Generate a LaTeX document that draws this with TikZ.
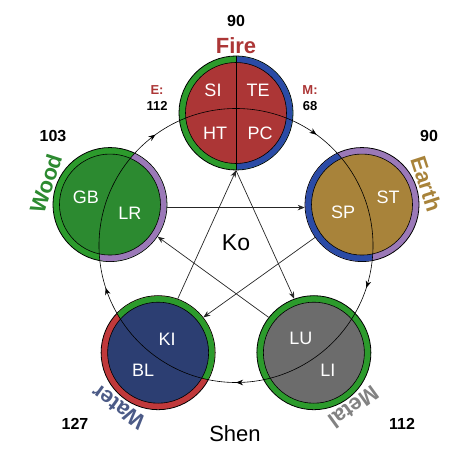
\documentclass[tikz,border=0pt]{standalone}
\usepackage{fontspec}
\setmainfont{Liberation Sans}
\usetikzlibrary{arrows.meta,calc,decorations.markings}
\definecolor{firered}{RGB}{172,54,54}
\definecolor{woodgreen}{RGB}{44,138,48}
\definecolor{earthgold}{RGB}{168,131,58}
\definecolor{waterblue}{RGB}{44,62,114}
\definecolor{metalgray}{RGB}{108,108,108}
\definecolor{ringgreen}{RGB}{44,155,44}
\definecolor{ringblue}{RGB}{43,75,166}
\definecolor{ringpurple}{RGB}{155,121,184}
\definecolor{ringred}{RGB}{192,57,59}
\begin{document}
\begin{tikzpicture}[x=1pt,y=1pt,>={Stealth[length=7pt,width=5.5pt]},
                elem node/.style={circle,draw,line width=0.8pt,minimum size=114pt,inner sep=0pt},
                organ/.style={text=white,font=\fontsize{18}{18}\selectfont},
                tag/.style={font=\bfseries\fontsize{22}{22}\selectfont},
                score/.style={font=\bfseries\fontsize{16}{19}\selectfont,align=center},
                ko/.style={->,line width=0.7pt,draw=black!85}]

  \useasboundingbox (0,0) rectangle (476,456);
  \coordinate (ctr) at (236,210.5);

  \node[elem node,fill=ringgreen] (fire) at ($(ctr)+(90:132.5pt)$) {};
  \node[elem node,fill=ringgreen] (wood) at ($(ctr)+(162:132.5pt)$) {};
  \node[elem node,fill=ringpurple] (earth) at ($(ctr)+(18:132.5pt)$) {};
  \node[elem node,fill=ringred] (water) at ($(ctr)+(234:132.5pt)$) {};
  \node[elem node,fill=ringgreen] (metal) at ($(ctr)+(306:132.5pt)$) {};

  \begin{scope}
    \clip (fire.center) ++(0,-60) rectangle ++(60,120);
    \fill[ringblue] (fire.center) circle (56.6pt);
  \end{scope}
  \begin{scope}
    \clip (ctr) circle (137pt);
    \fill[ringpurple] (wood.center) circle (56.6pt);
    \fill[ringblue] (earth.center) circle (56.6pt);
    \fill[ringgreen] (water.center) circle (56.6pt);
  \end{scope}

  \draw[fill=firered,line width=0.6pt] (fire.center) circle (50.5pt);
  \draw[fill=woodgreen,line width=0.6pt] (wood.center) circle (50.5pt);
  \draw[fill=earthgold,line width=0.6pt] (earth.center) circle (50.5pt);
  \draw[fill=waterblue,line width=0.6pt] (water.center) circle (50.5pt);
  \draw[fill=metalgray,line width=0.6pt] (metal.center) circle (50.5pt);
  \draw[line width=0.6pt] (fire.north) -- (fire.south);

  \draw[line width=0.6pt,postaction={decorate},
        decoration={markings,mark=between positions 0.1 and 0.9 step 0.2 with {\arrow{>}}}]
    (ctr) ++(90:137pt) arc[start angle=90,end angle=-270,radius=137pt];

  \draw[ko] (wood.-3) -- (earth.183);
  \draw[ko] (earth.-145) -- (water.38);
  \draw[ko] (water.70) -- (fire.-90);
  \draw[ko] (fire.-90) -- (metal.110);
  \draw[ko] (metal.142) -- (wood.-34);

  \node[organ] at ([shift={(-23,23)}]fire.center) {SI};
  \node[organ] at ([shift={(22,23)}]fire.center) {TE};
  \node[organ] at ([shift={(-21,-20)}]fire.center) {HT};
  \node[organ] at ([shift={(24,-20)}]fire.center) {PC};
  \node[organ] at ([shift={(-24,7)}]wood.center) {GB};
  \node[organ] at ([shift={(20,-9)}]wood.center) {LR};
  \node[organ] at ([shift={(-19,-8)}]earth.center) {SP};
  \node[organ] at ([shift={(26,7)}]earth.center) {ST};
  \node[organ] at ([shift={(9,13)}]water.center) {KI};
  \node[organ] at ([shift={(-15,-18)}]water.center) {BL};
  \node[organ] at ([shift={(-13,14)}]metal.center) {LU};
  \node[organ] at ([shift={(14,-18)}]metal.center) {LI};

  \node[tag,text=firered] at ($(ctr)+(90:200pt)$) {Fire};
  \node[tag,text=woodgreen,rotate=72] at ($(ctr)+(162:200pt)$) {Wood};
  \node[tag,text=earthgold,rotate=-72] at ($(ctr)+(18:200pt)$) {Earth};
  \node[tag,text=waterblue!85!white,rotate=144] at ($(ctr)+(234:200pt)$) {Water};
  \node[tag,text=metalgray!85!white,rotate=216] at ($(ctr)+(306:200pt)$) {Metal};

  \node[score] (firenum) at (236,435) {90};
  \node[score] (woodnum) at (53,320) {103};
  \node[score] (earthnum) at (429,320) {90};
  \node[score] (waternum) at (75,32) {127};
  \node[score] (metalnum) at (402,32) {112};
  \node[score,font=\bfseries\fontsize{13}{16}\selectfont] (enum) at (157,358) {\textcolor{firered}{E:}\\112};
  \node[score,font=\bfseries\fontsize{13}{16}\selectfont] (mnum) at (310,358) {\textcolor{firered}{M:}\\68};

  \node[font=\fontsize{23}{23}\selectfont] (ko) at (236,213) {Ko};
  \node[font=\fontsize{22}{22}\selectfont] (shen) at (235,22) {Shen};

\end{tikzpicture}
\end{document}
